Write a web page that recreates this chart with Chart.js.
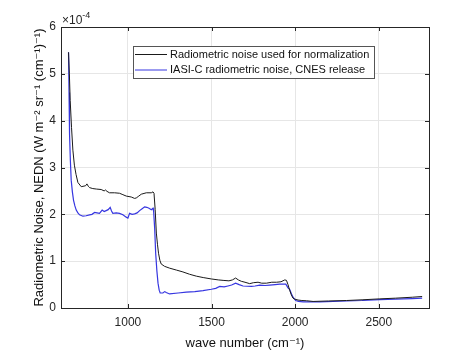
<!DOCTYPE html>
<html>
<head>
<meta charset="utf-8">
<script src="https://cdn.jsdelivr.net/npm/chart.js@4/dist/chart.umd.min.js"></script>
<style>
  html, body { margin: 0; padding: 0; background: #fff; }
  #wrap { width: 474px; height: 351px; }
</style>
</head>
<body>
<div id="wrap"><canvas id="grafico" width="474" height="351"></canvas></div>
<script>
// valores en unidades de 1e-4 W m-2 sr-1 (cm-1)-1
const ondaNorm = [645, 650, 655, 663, 671, 680, 690, 701, 721, 747, 755, 763, 771, 790, 811, 840, 858, 866, 875, 890,
  920, 950, 970, 990, 1020, 1040, 1050, 1065, 1080, 1110, 1140, 1150, 1156, 1163, 1170, 1177, 1183, 1191, 1199, 1219,
  1250, 1290, 1329, 1369, 1409, 1450, 1499, 1540, 1569, 1604, 1625, 1644, 1660, 1678, 1700, 1728, 1750, 1778, 1800, 1828,
  1860, 1888, 1915, 1938, 1948, 1957, 1967, 1977, 1987, 1997, 2017, 2040, 2067, 2107, 2200, 2307, 2400, 2506, 2600, 2700, 2759];
const ruidoNorm = [5.46, 5.0, 4.43, 3.85, 3.37, 3.05, 2.85, 2.68, 2.59, 2.61, 2.65, 2.60, 2.57, 2.55, 2.54, 2.53, 2.50, 2.52, 2.49, 2.46,
  2.46, 2.45, 2.42, 2.39, 2.37, 2.34, 2.35, 2.39, 2.43, 2.46, 2.46, 2.48, 2.45, 2.1, 1.6, 1.35, 1.17, 1.02, 0.94, 0.89,
  0.85, 0.81, 0.77, 0.72, 0.68, 0.65, 0.62, 0.60, 0.59, 0.58, 0.60, 0.64, 0.60, 0.57, 0.55, 0.52, 0.54, 0.55, 0.53, 0.53,
  0.55, 0.55, 0.56, 0.60, 0.59, 0.50, 0.38, 0.28, 0.21, 0.19, 0.17, 0.16, 0.155, 0.14, 0.15, 0.16, 0.175, 0.195, 0.21, 0.23, 0.245];

const ondaCnes = [645, 648, 651, 656, 661, 668, 675, 683, 691, 701, 711, 731, 750, 771, 785, 801, 815, 830, 846, 858,
  870, 882, 894, 902, 910, 930, 950, 970, 990, 1000, 1010, 1025, 1040, 1055, 1070, 1085, 1100, 1113, 1126, 1140,
  1150, 1154, 1160, 1166, 1173, 1180, 1187, 1193, 1209, 1220, 1229, 1249, 1300, 1349, 1400, 1449, 1499, 1525, 1549, 1575,
  1598, 1620, 1644, 1665, 1688, 1738, 1760, 1788, 1820, 1848, 1880, 1908, 1944, 1957, 1967, 1978, 1987, 2003, 2020, 2047,
  2147, 2307, 2400, 2506, 2600, 2700, 2759];
const ruidoCnes = [5.46, 4.6, 3.72, 3.15, 2.73, 2.48, 2.30, 2.18, 2.09, 2.03, 1.99, 1.96, 1.97, 1.99, 2.00, 2.04, 2.03, 2.02, 2.09, 2.06,
  2.08, 2.10, 2.15, 2.07, 2.02, 2.03, 2.02, 1.99, 1.94, 1.92, 2.02, 2.00, 2.01, 2.03, 2.08, 2.12, 2.16, 2.15, 2.13, 2.10,
  2.13, 2.05, 1.7, 1.17, 0.8, 0.53, 0.38, 0.32, 0.32, 0.35, 0.33, 0.30, 0.32, 0.34, 0.35, 0.37, 0.40, 0.42, 0.46, 0.45,
  0.47, 0.49, 0.53, 0.50, 0.47, 0.46, 0.47, 0.49, 0.48, 0.49, 0.50, 0.51, 0.51, 0.43, 0.40, 0.30, 0.23, 0.16, 0.14, 0.13,
  0.13, 0.15, 0.16, 0.18, 0.19, 0.20, 0.21];

const ticksX = [1000, 1500, 2000, 2500];
const ticksY = [0, 1, 2, 3, 4, 5, 6];
const etiquetas = ["Radiometric noise used for normalization", "IASI-C radiometric noise, CNES release"];

const fuente = "'Liberation Sans', Arial, 'DejaVu Sans', sans-serif";
const colorEje = "#262626";

// caja, marcas hacia dentro, leyenda y multiplicador
const extras = {
  id: "extras",
  afterDatasetsDraw(chart) {
    const { ctx, chartArea: a, scales } = chart;
    ctx.save();
    ctx.strokeStyle = colorEje;
    ctx.lineWidth = 1;
    ctx.beginPath();
    ticksX.forEach((v) => {
      const x = Math.round(scales.x.getPixelForValue(v)) + 0.5;
      ctx.moveTo(x, a.bottom); ctx.lineTo(x, a.bottom - 4);
      ctx.moveTo(x, a.top); ctx.lineTo(x, a.top + 4);
    });
    ticksY.forEach((v) => {
      const y = Math.round(scales.y.getPixelForValue(v)) + 0.5;
      ctx.moveTo(a.left, y); ctx.lineTo(a.left + 4, y);
      ctx.moveTo(a.right, y); ctx.lineTo(a.right - 4, y);
    });
    ctx.stroke();
    ctx.strokeRect(Math.round(a.left) + 0.5, Math.round(a.top) + 0.5,
      Math.round(a.right - a.left), Math.round(a.bottom - a.top));

    // leyenda
    const bx = 133.5, by = 46.5, bw = 241, bh = 32;
    ctx.fillStyle = "#fff";
    ctx.fillRect(bx, by, bw, bh);
    ctx.strokeStyle = "#555";
    ctx.strokeRect(bx, by, bw, bh);
    ctx.font = "11px " + fuente;
    ctx.textBaseline = "middle";
    chart.data.datasets.forEach((ds, i) => {
      const y = 54.5 + i * 15.5;
      ctx.strokeStyle = ds.borderColor;
      ctx.lineWidth = 1;
      ctx.beginPath();
      ctx.moveTo(135, y); ctx.lineTo(167, y);
      ctx.stroke();
      ctx.fillStyle = "#111";
      ctx.fillText(ds.label, 170, y);
    });

    // ×10^-4
    ctx.fillStyle = colorEje;
    ctx.font = "12px " + fuente;
    ctx.textBaseline = "alphabetic";
    ctx.fillText("\u00d710", 62, 24);
    const w = ctx.measureText("\u00d710").width;
    ctx.font = "9px " + fuente;
    ctx.fillText("-4", 62 + w, 18);
    ctx.restore();
  }
};

new Chart(document.getElementById("grafico"), {
  type: "scatter",
  data: {
    datasets: [
      {
        label: etiquetas[0],
        data: ondaNorm.map((x, i) => ({ x: x, y: ruidoNorm[i] })),
        borderColor: "#1a1a1a",
        borderWidth: 1,
        showLine: true,
        pointRadius: 0,
        fill: false,
      },
      {
        label: etiquetas[1],
        data: ondaCnes.map((x, i) => ({ x: x, y: ruidoCnes[i] })),
        borderColor: "#3636e0",
        borderWidth: 1.2,
        showLine: true,
        pointRadius: 0,
        fill: false,
      },
    ],
  },
  options: {
    responsive: false,
    devicePixelRatio: 1,
    animation: false,
    layout: { padding: { left: 32, right: 45, top: 27, bottom: 0 } },
    plugins: { legend: { display: false }, tooltip: { enabled: false } },
    scales: {
      x: {
        type: "linear",
        min: 600,
        max: 2800,
        afterBuildTicks: (s) => { s.ticks = ticksX.map((v) => ({ value: v })); },
        afterFit: (s) => { s.height = 43; },
        grid: { color: "#e6e6e6", drawTicks: false },
        border: { display: false },
        ticks: { color: colorEje, font: { size: 12, family: fuente }, padding: 7, maxRotation: 0,
          callback: (v) => String(v) },
        title: {
          display: true,
          text: "wave number (cm\u207b\u00b9)",
          color: "#111",
          font: { size: 13, family: fuente },
          padding: 0,
        },
      },
      y: {
        type: "linear",
        min: 0,
        max: 6,
        afterBuildTicks: (s) => { s.ticks = ticksY.map((v) => ({ value: v })); },
        afterFit: (s) => { s.width = 29; },
        grid: { color: "#e6e6e6", drawTicks: false },
        border: { display: false },
        ticks: { color: colorEje, font: { size: 12, family: fuente }, padding: 5,
          callback: (v) => String(v) },
        title: {
          display: true,
          text: "Radiometric Noise, NEDN (W m\u207b\u00b2 sr\u207b\u00b9 (cm\u207b\u00b9)\u207b\u00b9)",
          color: "#111",
          font: { size: 13, family: fuente },
          padding: 0,
        },
      },
    },
  },
  plugins: [extras],
});
</script>
</body>
</html>
